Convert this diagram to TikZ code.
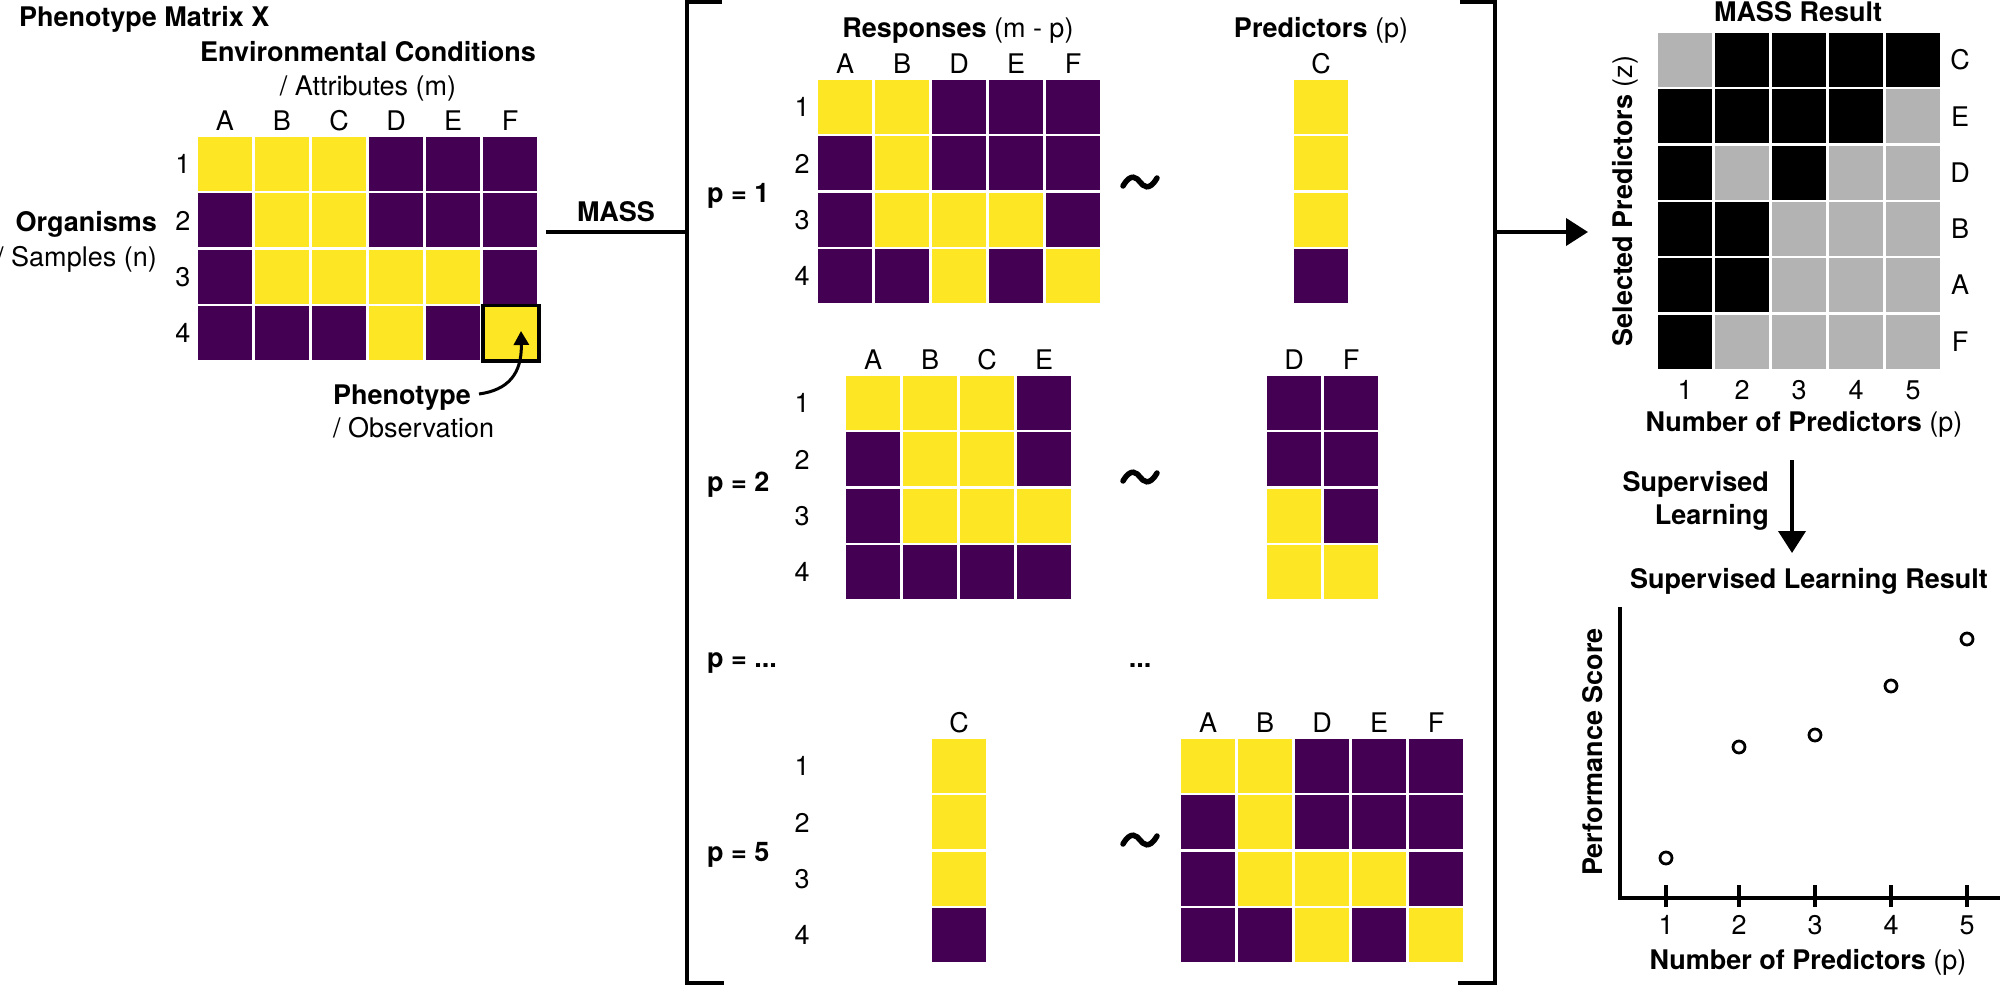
\documentclass[tikz,border=0pt]{standalone}
\usepackage{fontspec}
\setmainfont{TeX Gyre Heros}
\usetikzlibrary{arrows.meta}
\definecolor{cY}{HTML}{FDE725}
\definecolor{cP}{HTML}{440154}
\definecolor{cK}{HTML}{000000}
\definecolor{cG}{HTML}{B3B3B3}
\newcommand{\fs}{\fontsize{27}{32}\selectfont}
\newcommand{\drawcells}[3]{%
  \foreach \rw [count=\r] in {#3} {
    \foreach \c [count=\k] in \rw {
      \fill[fill=c\c] ({#1+(\k-1)*57},{#2+(\r-1)*56.3}) rectangle ++(54,54);
    }
  }}
\newcommand{\collabels}[4]{%
  \foreach \l [count=\k] in {#4} {
    \node[lab] (#1c\k) at ({#2+(\k-1)*57+27},{#3-16}) {\l};
  }}
\newcommand{\rowlabels}[3]{%
  \foreach \k in {1,...,4} {
    \node[lab] (#1r\k) at (#2,{#3+(\k-1)*56.3+27}) {\k};
  }}
\tikzset{
  lab/.style={inner sep=0pt, font=\fs, text height=19.4pt, text depth=0pt},
  blab/.style={lab, font=\fs\bfseries},
  thick line/.style={line width=4pt},
  bigarrow/.style={line width=4pt, -{Triangle[length=22pt,width=27pt]}},
}
\begin{document}
\begin{tikzpicture}[x=1pt,y=-1pt]
\useasboundingbox (0,0) rectangle (2000,985);
\fill[white] (0,0) rectangle (2000,985);

% ---------- Left: phenotype matrix ----------
\node[blab, anchor=west] (title) at (19,17) {Phenotype Matrix X};
\node[blab] (env) at (368,52) {Environmental Conditions};
\node[lab] (attr) at (368,86) {/ Attributes (m)};
\node[blab, anchor=east] (org) at (157,222) {Organisms};
\node[lab, anchor=east] (samp) at (157,257) {/ Samples (n)};
\drawcells{198}{137}{{Y,Y,Y,P,P,P},{P,Y,Y,P,P,P},{P,Y,Y,Y,Y,P},{P,P,P,Y,P,Y}}
\collabels{L}{198}{137}{A,B,C,D,E,F}
\rowlabels{L}{183}{137}
\draw[line width=3.5pt] (483,305.5) rectangle (539,361);
\node[blab, anchor=west] (ph) at (333,395) {Phenotype};
\node[lab, anchor=west] (obs) at (333,428) {/ Observation};
\coordinate (pa) at (479,394);
\coordinate (pb) at (521,331);
\draw[line width=3pt, -{Triangle[length=14pt,width=15pt]}] (pa) .. controls (508,390) and (522,374) .. (pb);

% ---------- MASS connector ----------
\coordinate (ms) at (546,232);
\coordinate (bl) at (687,232);
\draw[thick line] (ms) -- (bl);
\node[blab] (mass) at (616,212) {MASS};

% ---------- brackets ----------
\draw[thick line] (722,2) -- (687,2) -- (687,983) -- (724,983);
\draw[thick line] (1460,2) -- (1495,2) -- (1495,983) -- (1458,983);

% ---------- p = 1 ----------
\node[blab] (resp) at (958,28) {Responses \mdseries(m - p)};
\node[blab] (pred) at (1321,28) {Predictors \mdseries(p)};
\node[blab, anchor=west] (p1) at (707,193) {p = 1};
\drawcells{818}{80}{{Y,Y,P,P,P},{P,Y,P,P,P},{P,Y,Y,Y,P},{P,P,Y,P,Y}}
\collabels{A}{818}{80}{A,B,D,E,F}
\rowlabels{A}{802}{80}
\drawcells{1294}{80}{{Y},{Y},{Y},{P}}
\collabels{B}{1294}{80}{C}
\draw[line width=5.5pt, line cap=round] (1123,186) .. controls (1131,172) and (1137,178) .. (1140,182) .. controls (1143,186) and (1149,192) .. (1157,178);

% ---------- p = 2 ----------
\node[blab, anchor=west] (p2) at (707,482) {p = 2};
\drawcells{846}{376}{{Y,Y,Y,P},{P,Y,Y,P},{P,Y,Y,Y},{P,P,P,P}}
\collabels{C}{846}{376}{A,B,C,E}
\rowlabels{C}{802}{376}
\drawcells{1267}{376}{{P,P},{P,P},{Y,P},{Y,Y}}
\collabels{D}{1267}{376}{D,F}
\draw[line width=5.5pt, line cap=round] (1123,481) .. controls (1131,467) and (1137,473) .. (1140,477) .. controls (1143,481) and (1149,487) .. (1157,473);

% ---------- p = ... ----------
\node[blab, anchor=west] (pd) at (707,658) {p = ...};
\node[blab] (dots) at (1140,658) {...};

% ---------- p = 5 ----------
\node[blab, anchor=west] (p5) at (707,852) {p = 5};
\drawcells{932}{739}{{Y},{Y},{Y},{P}}
\collabels{E}{932}{739}{C}
\rowlabels{E}{802}{739}
\drawcells{1181}{739}{{Y,Y,P,P,P},{P,Y,P,P,P},{P,Y,Y,Y,P},{P,P,Y,P,Y}}
\collabels{F}{1181}{739}{A,B,D,E,F}
\draw[line width=5.5pt, line cap=round] (1123,844) .. controls (1131,830) and (1137,836) .. (1140,840) .. controls (1143,844) and (1149,850) .. (1157,836);

% ---------- arrow to MASS result ----------
\coordinate (br) at (1495,232);
\coordinate (mr) at (1588,232);
\draw[bigarrow] (br) -- (mr);

% ---------- MASS Result ----------
\node[blab] (mrt) at (1798,12) {MASS Result};
\drawcells{1658}{33}{{G,K,K,K,K},{K,K,K,K,G},{K,G,K,G,G},{K,K,G,G,G},{K,K,G,G,G},{K,G,G,G,G}}
\foreach \l [count=\k] in {C,E,D,B,A,F} {
  \node[lab] (mrr\k) at (1960,{33+(\k-1)*56.3+27}) {\l};
}
\foreach \k in {1,...,5} {
  \node[lab] (mrc\k) at ({1685+(\k-1)*57},390) {\k};
}
\node[blab] (mrx) at (1804,422) {Number of Predictors \mdseries(p)};
\node[blab, rotate=90] (mry) at (1623,201) {Selected Predictors \mdseries(z)};

% ---------- Supervised learning ----------
\coordinate (sa) at (1792,460);
\coordinate (sb) at (1792,553);
\draw[bigarrow] (sa) -- (sb);
\node[blab, anchor=east] (sl1) at (1769,482) {Supervised};
\node[blab, anchor=east] (sl2) at (1769,515) {Learning};
\node[blab] (slt) at (1809,579) {Supervised Learning Result};
\draw[thick line] (1620,607) -- (1620,898) -- (2000,898);
\foreach \x [count=\k] in {1666,1739,1815,1891,1967} {
  \draw[thick line] (\x,885) -- (\x,907);
  \node[lab] (tk\k) at (\x,925) {\k};
}
\foreach \x/\y [count=\k] in {1666/858,1739/747,1815/735,1891/686,1967/639} {
  \draw[line width=2.8pt] (\x,\y) circle (6);
}
\node[blab, rotate=90] (ps) at (1593,752) {Performance Score};
\node[blab] (slx) at (1808,960) {Number of Predictors \mdseries(p)};
\end{tikzpicture}
\end{document}
